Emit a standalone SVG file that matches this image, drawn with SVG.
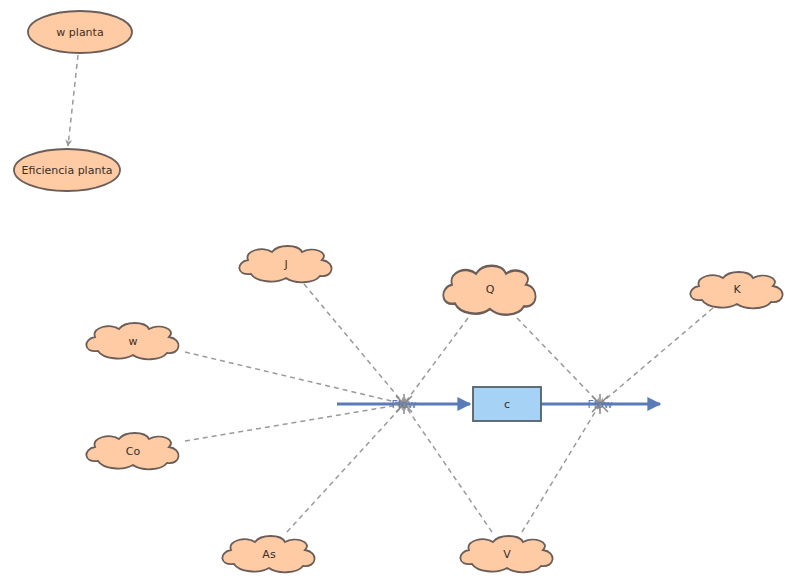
<svg xmlns="http://www.w3.org/2000/svg" width="800" height="586" viewBox="0 0 800 586">
<style>
.n{fill:#ffcba4;stroke:#6b5e58;stroke-width:1.8}
.t{font-family:"DejaVu Sans",sans-serif;font-size:11px;fill:#3a2e28;text-anchor:middle;dominant-baseline:central}
.d{stroke:#9a9a9a;stroke-width:1.5;stroke-dasharray:5,4;fill:none}
.f{stroke:#5b7bb8;stroke-width:3;fill:none}
.v{stroke:#888;stroke-width:1.5;fill:none}
</style>
<defs>
<path id="cloud" d="M-35,10 C-50,12 -50,-2 -38,-4 C-42,-14 -22,-18 -14,-12 C-8,-20 12,-20 16,-12 C26,-18 44,-12 36,-4 C50,-2 48,14 34,12 C28,20 8,20 0,14 C-10,20 -30,18 -35,10 Z"/>
<marker id="ah" viewBox="0 0 10 10" refX="9" refY="5" markerWidth="7" markerHeight="7" orient="auto" markerUnits="userSpaceOnUse"><path d="M0,0 L10,5 L0,10 L3,5 Z" fill="#9a9a9a"/></marker>
<marker id="fa" viewBox="0 0 10 10" refX="9" refY="5" markerWidth="16" markerHeight="14" orient="auto" markerUnits="userSpaceOnUse"><path d="M0,0 L10,5 L0,10 Z" fill="#5b7bb8"/></marker>
</defs>
<g id="connectors">
<line class="d" x1="78" y1="55" x2="68" y2="146" marker-end="url(#ah)"/>
<line class="d" x1="304" y1="284" x2="404" y2="404" marker-end="url(#ah)"/>
<line class="d" x1="185" y1="352" x2="404" y2="404" marker-end="url(#ah)"/>
<line class="d" x1="185" y1="441" x2="404" y2="404" marker-end="url(#ah)"/>
<line class="d" x1="287" y1="532" x2="404" y2="404" marker-end="url(#ah)"/>
<line class="d" x1="468" y1="318" x2="404" y2="404" marker-end="url(#ah)"/>
<line class="d" x1="492" y1="532" x2="404" y2="404" marker-end="url(#ah)"/>
<line class="d" x1="517" y1="318" x2="600" y2="404" marker-end="url(#ah)"/>
<line class="d" x1="522" y1="532" x2="600" y2="404" marker-end="url(#ah)"/>
<line class="d" x1="713" y1="308" x2="600" y2="404" marker-end="url(#ah)"/>
<line class="f" x1="337" y1="404" x2="470" y2="404" marker-end="url(#fa)"/>
<line class="f" x1="541" y1="404" x2="660" y2="404" marker-end="url(#fa)"/>
</g>
<g id="w_planta"><ellipse class="n" cx="80" cy="32" rx="52" ry="21"/><text class="t" x="80" y="32">w planta</text></g>
<g id="eficiencia_planta"><ellipse class="n" cx="67" cy="170" rx="53" ry="21"/><text class="t" x="67" y="170">Eficiencia planta</text></g>
<g id="J"><use href="#cloud" class="n" transform="translate(286,264)"/><text class="t" x="286" y="264">J</text></g>
<g id="Q"><use href="#cloud" class="n" transform="translate(490,290) scale(1,1.35)"/><text class="t" x="490" y="289">Q</text></g>
<g id="K"><use href="#cloud" class="n" transform="translate(737,290)"/><text class="t" x="737" y="289">K</text></g>
<g id="w"><use href="#cloud" class="n" transform="translate(133,341)"/><text class="t" x="133" y="341">w</text></g>
<g id="Co"><use href="#cloud" class="n" transform="translate(133,451)"/><text class="t" x="133" y="451">Co</text></g>
<g id="As"><use href="#cloud" class="n" transform="translate(269,554)"/><text class="t" x="269" y="554">As</text></g>
<g id="V"><use href="#cloud" class="n" transform="translate(507,554)"/><text class="t" x="507" y="554">V</text></g>
<g id="c"><rect x="473" y="387" width="68" height="34" fill="#a6d3f5" stroke="#555f66" stroke-width="1.8"/><text class="t" x="507" y="404">c</text></g>
<g id="flow1"><path class="v" d="M396,396 L412,412 M396,412 L412,396 M404,394 L404,414 M394,404 L414,404"/><text class="t" x="404" y="404" fill="#5b7bb8" style="fill:#5b7bb8">Flow</text></g>
<g id="flow2"><path class="v" d="M592,396 L608,412 M592,412 L608,396 M600,394 L600,414"/><text class="t" x="600" y="404" style="fill:#5b7bb8">Flow</text></g>
</svg>
